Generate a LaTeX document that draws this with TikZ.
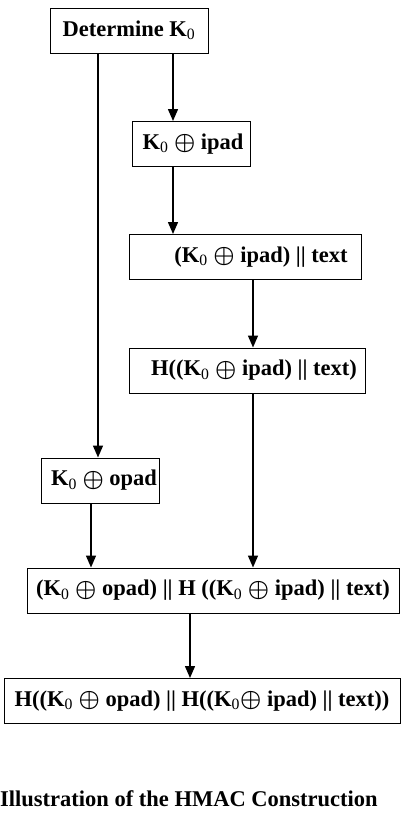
\documentclass[tikz,border=0pt]{standalone}
\usepackage{fontspec}
\setmainfont{Liberation Serif}
\usetikzlibrary{arrows.meta, positioning}

\newcommand{\Kz}{K\textsubscript{\mdseries 0}}
\newcommand{\xop}{\raisebox{-0.5pt}{\scalebox{1.15}{\boldmath$\oplus$}}}

\begin{document}
\begin{tikzpicture}[x=1pt, y=-1pt, >={Triangle[width=10pt,length=12pt]},
    font=\fontsize{22.5}{26}\selectfont\bfseries]
    \tikzset{
        box/.style={draw, line width=1pt, inner sep=0pt, minimum height=45pt},
        flow/.style={->, line width=1.5pt}
    }
    \useasboundingbox (0,0) rectangle (409,817);

    % --- boxes ---
    \node[box, minimum width=158pt] (det) at (129,30.5) {Determine \Kz};
    \node[box, minimum width=118pt] (ipad) at (191,144) {\hspace*{4pt}\Kz{} \xop{} ipad};
    \node[box, minimum width=232pt] (cat) at (245,257) {\hspace*{32pt}(\Kz{} \xop{} ipad) || text};
    \node[box, minimum width=236pt] (hin) at (247,370.5) {\hspace*{14pt}H((\Kz{} \xop{} ipad) || text)};
    \node[box, minimum width=118pt] (opad) at (100,480.5) {\hspace*{8pt}\Kz{} \xop{} opad};
    \node[box, minimum width=372pt] (big) at (213,590.5) {(\Kz{} \xop{} opad) || H ((\Kz{} \xop{} ipad) || text)};
    \node[box, minimum width=396pt] (mac) at (202,701) {H((\Kz{} \xop{} opad) || H((\Kz{}\xop{} ipad) || text))};

    % --- connectors ---
    \coordinate (xa) at (173,0);
    \coordinate (xb) at (98,0);
    \coordinate (xc) at (253,0);
    \coordinate (xd) at (91,0);
    \coordinate (xe) at (190,0);
    \draw[flow] (det.south -| xa) -- (ipad.north -| xa);
    \draw[flow] (det.south -| xb) -- (opad.north -| xb);
    \draw[flow] (ipad.south -| xa) -- (cat.north -| xa);
    \draw[flow] (cat.south -| xc) -- (hin.north -| xc);
    \draw[flow] (hin.south -| xc) -- (big.north -| xc);
    \draw[flow] (opad.south -| xd) -- (big.north -| xd);
    \draw[flow] (big.south -| xe) -- (mac.north -| xe);

    % --- caption ---
    \node[anchor=base west, inner sep=0pt] (cap) at (0,806) {Illustration of the HMAC Construction};
\end{tikzpicture}
\end{document}
